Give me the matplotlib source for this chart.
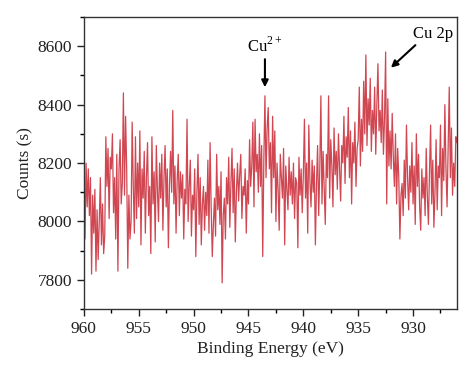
import numpy as np
import matplotlib
matplotlib.use("Agg")
import matplotlib.pyplot as plt
from matplotlib.ticker import MultipleLocator

plt.rcParams['font.family'] = ['Liberation Serif', 'DejaVu Serif']
plt.rcParams['mathtext.fontset'] = 'custom'
plt.rcParams['mathtext.rm'] = 'Liberation Serif'

# binding energy from 960 eV down to 926 eV in 0.1 eV steps
energy_start = 960.0
energy_step = -0.1
counts = [
    8110, 7940, 8200, 8050, 8180, 8020, 8150, 7820, 8090, 7960,
    8110, 7830, 8040, 7870, 8000, 8150, 7920, 8060, 7890, 7950,
    8290, 8120, 8250, 8010, 8220, 8180, 8300, 8030, 8150, 7940,
    8230, 7830, 8180, 8280, 8060, 8130, 8440, 8090, 8360, 8180,
    7840, 8090, 7940, 8000, 8340, 8120, 7960, 8290, 8010, 8200,
    8050, 8310, 7920, 8180, 8080, 8240, 7960, 8150, 8270, 8020,
    8120, 7890, 8290, 8060, 8170, 7930, 8260, 8110, 8000, 8200,
    8080, 8230, 7970, 8150, 8260, 8050, 8180, 7910, 8120, 8240,
    8100, 8380, 8060, 8190, 7960, 8140, 8230, 8020, 8170, 8080,
    8160, 7940, 8110, 8060, 8350, 8000, 8120, 8210, 7950, 8090,
    8040, 8180, 7880, 8100, 8230, 7990, 8150, 7920, 8060, 8120,
    7970, 8100, 8020, 8210, 7960, 8270, 8050, 7880, 7990, 8080,
    7950, 8230, 8040, 8120, 7990, 8170, 7790, 8020, 8080, 7940,
    8150, 8060, 8220, 7980, 8130, 8250, 8030, 8180, 7930, 8100,
    8200, 8070, 8160, 8230, 8010, 8120, 8090, 8180, 7960, 8140,
    8060, 8280, 8120, 8190, 8340, 8050, 8350, 8170, 8230, 8100,
    8300, 8120, 8260, 7880, 8210, 8430, 8150, 8320, 8390, 8180,
    8270, 8030, 8360, 8150, 8310, 8000, 8200, 8110, 7970, 8230,
    8150, 8080, 8250, 7920, 8190, 8110, 8040, 8220, 8090, 8170,
    8060, 8200, 8010, 8150, 8130, 7910, 8220, 8090, 8180, 8030,
    8160, 8350, 8080, 8200, 7960, 8330, 8140, 8050, 8210, 8100,
    8190, 7920, 8130, 8260, 8020, 8180, 8430, 8060, 8240, 8120,
    7990, 8230, 8150, 8430, 8080, 8280, 8190, 8050, 8320, 8160,
    8240, 8110, 8300, 8180, 8070, 8260, 8200, 8360, 8130, 8290,
    8220, 8390, 8150, 8310, 8060, 8270, 8200, 8340, 8120, 8250,
    8280, 8460, 8190, 8350, 8240, 8480, 8300, 8570, 8260, 8420,
    8330, 8490, 8240, 8380, 8300, 8460, 8230, 8400, 8540, 8310,
    8380, 8270, 8450, 8230, 8350, 8580, 8060, 8420, 8190, 8310,
    8180, 8370, 8220, 8120, 8300, 8060, 8250, 8150, 7940, 8090,
    8130, 8020, 8210, 8080, 8330, 8150, 8040, 8190, 8100, 8270,
    8060, 8190, 7990, 8300, 8120, 8230, 8050, 7970, 8180, 8080,
    8150, 8020, 8250, 8090, 7990, 8170, 8330, 8060, 8210, 7980,
    8100, 8280, 8040, 8190, 8150, 8330, 8020, 8250, 8140, 8400,
    8180, 8050, 8260, 8460, 8150, 8320, 8090, 8200, 8120, 8290,
    8270,
]
energy = energy_start + energy_step * np.arange(len(counts))

xticks = [960, 955, 950, 945, 940, 935, 930]
yticks = [7800, 8000, 8200, 8400, 8600]

fig = plt.figure(figsize=(4.74, 3.77), dpi=100)
ax = fig.add_axes([0.177, 0.180, 0.787, 0.775])
ax.plot(energy, counts, color='#c82532', lw=0.9, alpha=0.85)

ax.set_xlim(960, 926)
ax.set_ylim(7700, 8700)
ax.set_xticks(xticks)
ax.set_yticks(yticks)
ax.xaxis.set_minor_locator(MultipleLocator(2.5))
ax.yaxis.set_minor_locator(MultipleLocator(100))
ax.tick_params(which='major', direction='out', length=5, width=1, labelsize=12.5, colors='#222222')
ax.tick_params(which='minor', direction='out', length=3, width=1)
ax.tick_params(top=False, right=False, which='both')
for s in ax.spines.values():
    s.set_linewidth(1.0)
    s.set_color('#333333')

ax.set_xlabel('Binding Energy (eV)', fontsize=12.5, color='#222222', labelpad=3)
ax.set_ylabel('Counts (s)', fontsize=12.5, color='#222222', labelpad=3)

ax.annotate('', xy=(943.5, 8450), xytext=(943.5, 8565),
            arrowprops=dict(arrowstyle='-|>', color='black', lw=1.5, mutation_scale=10))
ax.text(943.5, 8600, 'Cu$^{2+}$', ha='center', va='center', fontsize=12)
ax.annotate('', xy=(932.2, 8520), xytext=(929.6, 8610),
            arrowprops=dict(arrowstyle='-|>', color='black', lw=1.5, mutation_scale=10))
ax.text(928.2, 8640, 'Cu 2p', ha='center', va='center', fontsize=12)

fig.savefig('out.png', dpi=100)
